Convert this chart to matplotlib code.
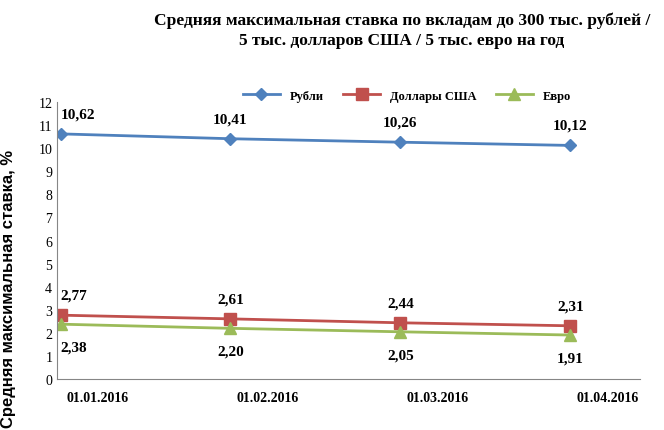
import matplotlib
matplotlib.use("Agg")
import matplotlib.pyplot as plt

dates = ["01.01.2016", "01.02.2016", "01.03.2016", "01.04.2016"]
rub = [10.62, 10.41, 10.26, 10.12]
usd = [2.77, 2.61, 2.44, 2.31]
eur = [2.38, 2.20, 2.05, 1.91]

def fmt(v):
    return f"{v:.2f}".replace(".", ",")

serif = "Liberation Serif"
fig = plt.figure(figsize=(6.64, 4.31), dpi=100)
ax = fig.add_axes([0.086, 0.118, 0.878, 0.643])
x = list(range(len(dates)))
ax.plot(x, rub, color="#4F81BD", marker="D", ms=6, lw=2, label="Рубли")
ax.plot(x, usd, color="#C0504D", marker="s", ms=8, lw=2, label="Доллары США")
ax.plot(x, eur, color="#9BBB59", marker="^", ms=8, lw=2, label="Евро")
ax.set_xlim(-0.02, 3.41)
ax.set_ylim(0, 12)
ax.set_yticks(range(0, 13))
ax.set_xticks([])
for s in ["top", "right"]:
    ax.spines[s].set_visible(False)
ax.spines["left"].set_color("#868686")
ax.spines["bottom"].set_color("#868686")
ax.tick_params(axis="y", labelsize=10, length=0)
for t in ax.get_yticklabels():
    t.set_fontfamily(serif)
for i in x:
    ax.text(i + 0.22, -0.5, dates[i], ha="center", va="top", fontsize=10, fontweight="bold", family=serif)
    ax.annotate(fmt(rub[i]), (i, rub[i]), xytext=(0, 12), textcoords="offset points", ha="left" if i == 0 else "center", fontsize=11, fontweight="bold", family=serif)
    ax.annotate(fmt(usd[i]), (i, usd[i]), xytext=(0, 12), textcoords="offset points", ha="left" if i == 0 else "center", fontsize=11, fontweight="bold", family=serif)
    ax.annotate(fmt(eur[i]), (i, eur[i]), xytext=(0, -12), textcoords="offset points", va="top", ha="left" if i == 0 else "center", fontsize=11, fontweight="bold", family=serif)
ax.set_ylabel("Средняя максимальная ставка, %", fontsize=12, fontweight="bold", family="Liberation Sans")
ax.yaxis.set_label_coords(-0.07, 0.33)
leg = ax.legend(loc="lower center", bbox_to_anchor=(0.6, 0.96), ncol=3, frameon=False,
                prop={"family": serif, "weight": "bold", "size": 9}, handlelength=3, columnspacing=1.5)
fig.text(0.605, 0.97, "Средняя максимальная ставка по вкладам до 300 тыс. рублей /\n5 тыс. долларов США / 5 тыс. евро на год",
         ha="center", va="top", fontsize=12.5, fontweight="bold", family=serif, linespacing=1.3)
fig.savefig("out.png", dpi=100)
